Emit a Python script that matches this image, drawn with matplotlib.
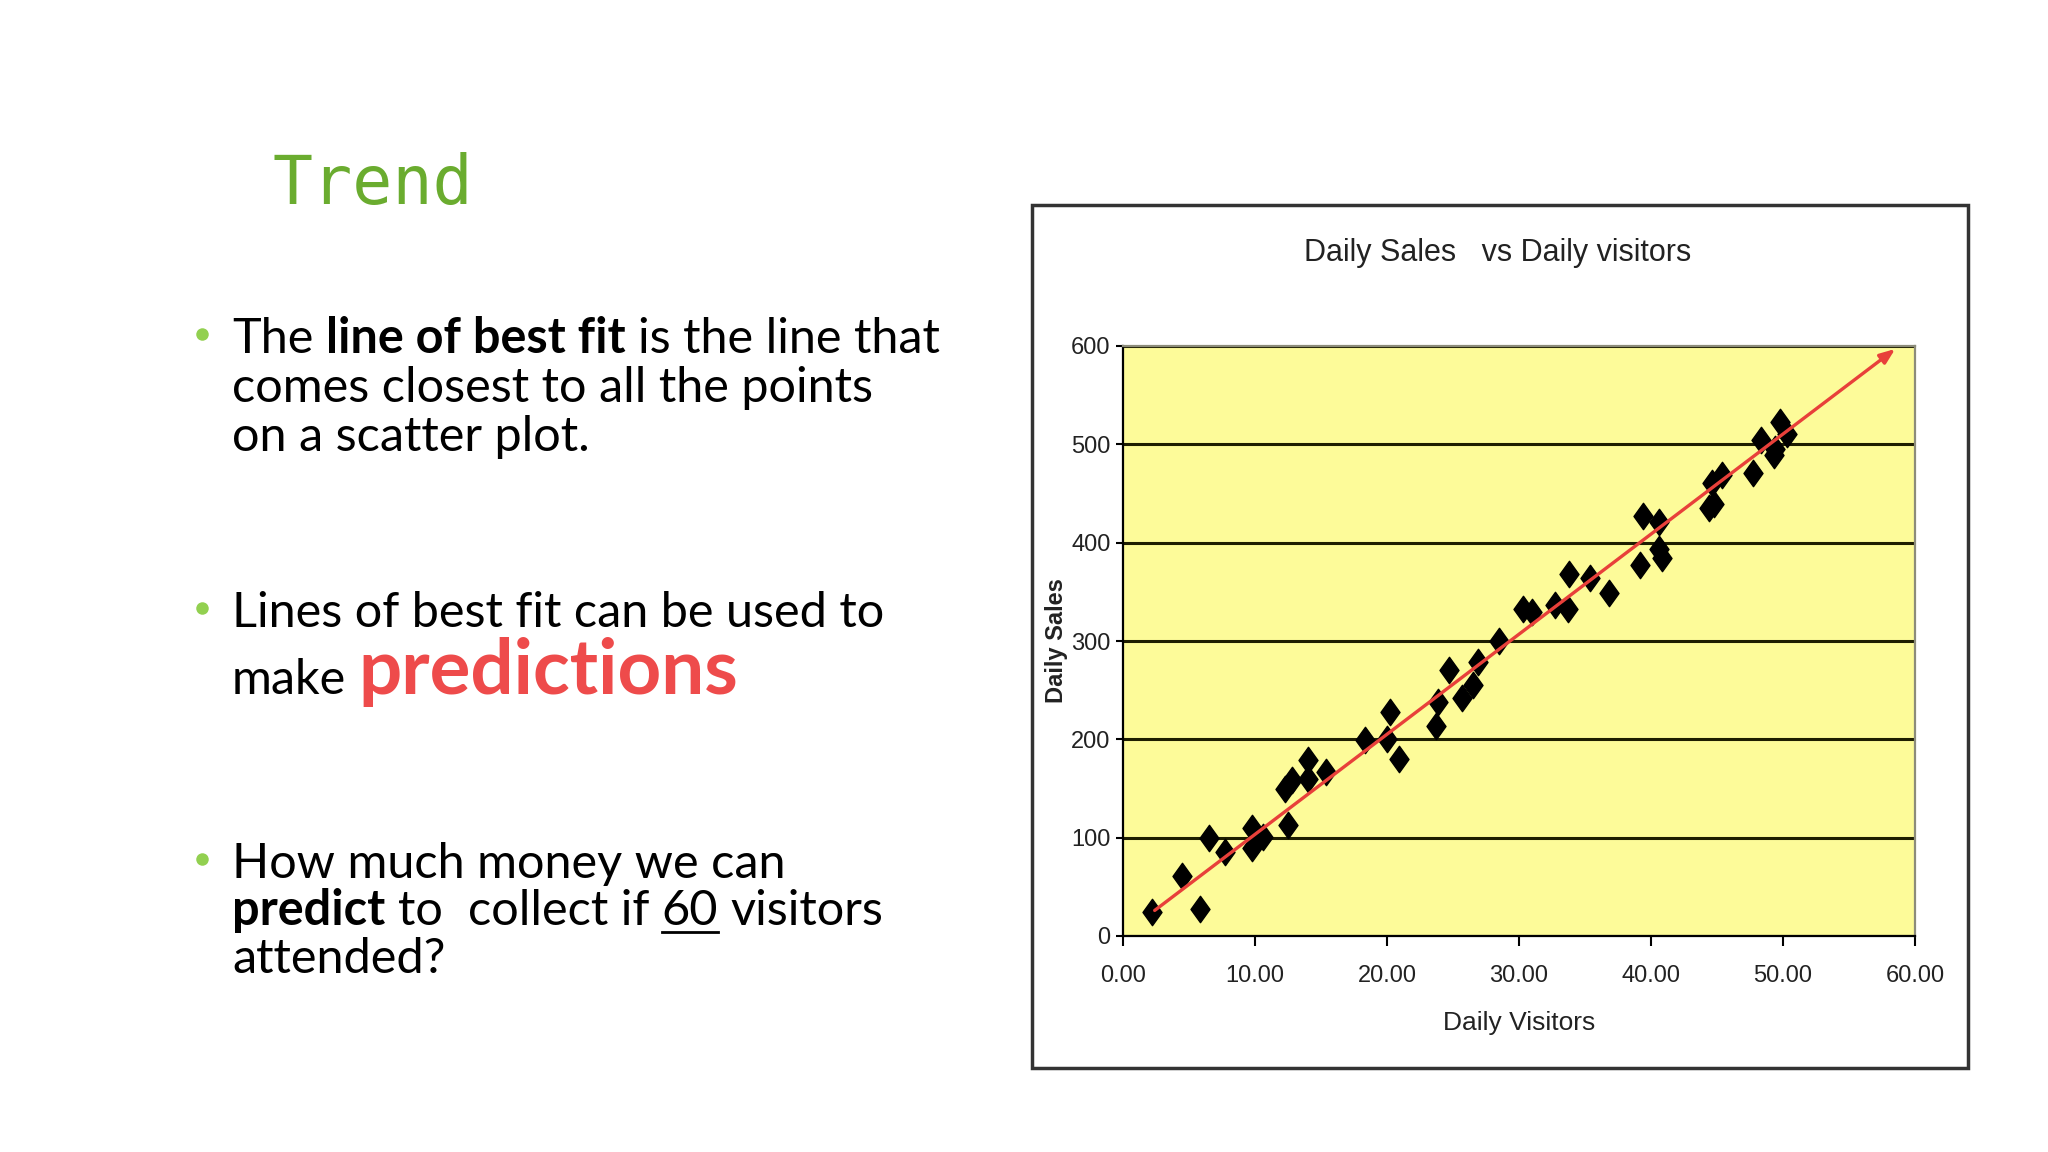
import matplotlib
matplotlib.use("Agg")
import matplotlib.pyplot as plt
from matplotlib.patches import Rectangle
from matplotlib.path import Path
import matplotlib.lines as mlines

# data
visitors = [2.2, 4.5, 5.8, 6.5, 7.7, 9.8, 9.8, 10.6, 12.3, 12.8, 12.5, 14.0, 14.0, 15.4,
            18.3, 20.2, 20.0, 20.9, 23.7, 23.9, 24.7, 25.7, 26.5, 26.9, 28.5, 30.3, 31.0,
            32.7, 33.7, 33.8, 35.4, 36.8, 39.2, 39.4, 40.6, 40.6, 40.8, 44.4, 44.8, 44.6,
            45.4, 47.7, 48.3, 49.3, 49.4, 49.8, 50.3]
sales = [24, 61, 27, 100, 85, 110, 90, 101, 150, 159, 113, 179, 160, 167,
         199, 228, 200, 180, 214, 238, 271, 242, 255, 279, 300, 333, 330,
         337, 333, 368, 364, 349, 377, 427, 421, 394, 384, 435, 439, 461,
         469, 471, 504, 489, 495, 523, 510]
trend_x = [2.4, 58.5]
trend_y = [26, 597]
x_ticks = [0, 10, 20, 30, 40, 50, 60]
y_ticks = [0, 100, 200, 300, 400, 500, 600]

W, H = 2048, 1152
fig = plt.figure(figsize=(W / 100, H / 100), dpi=100)
fig.patch.set_facecolor("white")

GREEN = "#6aac2f"
BULLET = "#92d050"
RED = "#ee4b4b"
BODY = ["Lato", "DejaVu Sans"]
CHART_FONT = ["Liberation Sans", "DejaVu Sans"]

def fx(px):
    return px / W

def fy(py):
    return 1 - py / H

renderer = fig.canvas.get_renderer()

def space_width(size, weight="normal"):
    a = fig.text(0, 0, "x x", fontsize=size, family=BODY, weight=weight)
    b = fig.text(0, 0, "xx", fontsize=size, family=BODY, weight=weight)
    w = a.get_window_extent(renderer).width - b.get_window_extent(renderer).width
    a.remove()
    b.remove()
    return w

def text_line(x, y, segments, size=35):
    # segments: list of (text, dict) placed one after another on a baseline
    for i, (txt, kw) in enumerate(segments):
        opts = dict(fontsize=size, family=BODY, color="black")
        opts.update(kw)
        underline = opts.pop("underline", False)
        gap = opts.pop("gap", 1)
        if i > 0:
            x += space_width(size) * gap
        t = fig.text(fx(x), fy(y), txt, va="baseline", ha="left", **opts)
        bb = t.get_window_extent(renderer)
        if underline:
            fig.add_artist(mlines.Line2D([fx(bb.x0), fx(bb.x1)], [fy(y + 7), fy(y + 7)],
                                         color="black", lw=2, transform=fig.transFigure))
        x = bb.x1

def bullet(x, y):
    fig.add_artist(mlines.Line2D([fx(x)], [fy(y)], marker="o", ms=9, color=BULLET,
                                 mec="none", transform=fig.transFigure))

# slide title
fig.text(fx(273), fy(204), "Trend", fontsize=48, family="DejaVu Sans Mono", color=GREEN, va="baseline")

# bullets
TX = 232
bullet(202, 334)
text_line(TX, 353, [("The", {}), ("line of best fit", {"weight": "bold"}), ("is the line that", {})])
text_line(TX, 402, [("comes closest to all the points", {})])
text_line(TX, 451, [("on a scatter plot.", {})])

bullet(202, 608)
text_line(TX, 627, [("Lines of best fit can be used to", {})])
text_line(TX, 694, [("make", {}), ("predictions", {"weight": "bold", "color": RED, "fontsize": 55})])

bullet(202, 859)
text_line(TX, 878, [("How much money we can", {})])
text_line(TX, 925, [("predict", {"weight": "bold"}), ("to", {}), ("collect if", {"gap": 2}),
                    ("60", {"underline": True}), ("visitors", {})])
text_line(TX, 973, [("attended?", {})])

# chart frame
fig.add_artist(Rectangle((fx(1032), fy(1068)), fx(1968) - fx(1032), fy(205) - fy(1068),
                         transform=fig.transFigure, fill=False, ec="#333333", lw=2.5))

ax = fig.add_axes([fx(1123), fy(936), fx(1915) - fx(1123), fy(346) - fy(936)])
ax.set_facecolor("#fdfb99")
ax.set_xlim(0, 60)
ax.set_ylim(0, 600)
ax.set_xticks(x_ticks)
ax.set_xticklabels([f"{v:.2f}" for v in x_ticks])
ax.set_yticks(y_ticks)
ax.yaxis.grid(True, color="#1e1e00", lw=2.2)
ax.set_axisbelow(True)
for s in ["left", "bottom"]:
    ax.spines[s].set_color("black")
    ax.spines[s].set_linewidth(1.6)
for s in ["top", "right"]:
    ax.spines[s].set_color("#8c8c7a")
    ax.spines[s].set_linewidth(1.6)
ax.tick_params(axis="x", direction="out", length=7, width=1.5, pad=14, labelsize=17)
ax.tick_params(axis="y", direction="out", length=5, width=1.5, pad=4, labelsize=17)
for lab in ax.get_xticklabels() + ax.get_yticklabels():
    lab.set_family(CHART_FONT)
    lab.set_color("#222222")

diamond = Path([(0, 1), (0.72, 0), (0, -1), (-0.72, 0), (0, 1)],
               [Path.MOVETO, Path.LINETO, Path.LINETO, Path.LINETO, Path.CLOSEPOLY])
ax.plot(visitors, sales, ls="none", marker=diamond, ms=19, color="black", zorder=3)

ax.annotate("", xy=(trend_x[1], trend_y[1]), xytext=(trend_x[0], trend_y[0]),
            arrowprops=dict(arrowstyle="-|>,head_length=0.9,head_width=0.35", color="#e8403a",
                            lw=2.4, shrinkA=0, shrinkB=0), zorder=4)

ax.set_xlabel("Daily Visitors", family=CHART_FONT, fontsize=19, color="#222222", labelpad=17)
ax.set_ylabel("Daily Sales", family=CHART_FONT, fontsize=17, weight="bold", color="#222222", labelpad=2)
fig.text(fx(1498), fy(253), "Daily Sales   vs Daily visitors", family=CHART_FONT, fontsize=22,
         color="#222222", ha="center", va="center")

fig.savefig("out.png", dpi=100)
